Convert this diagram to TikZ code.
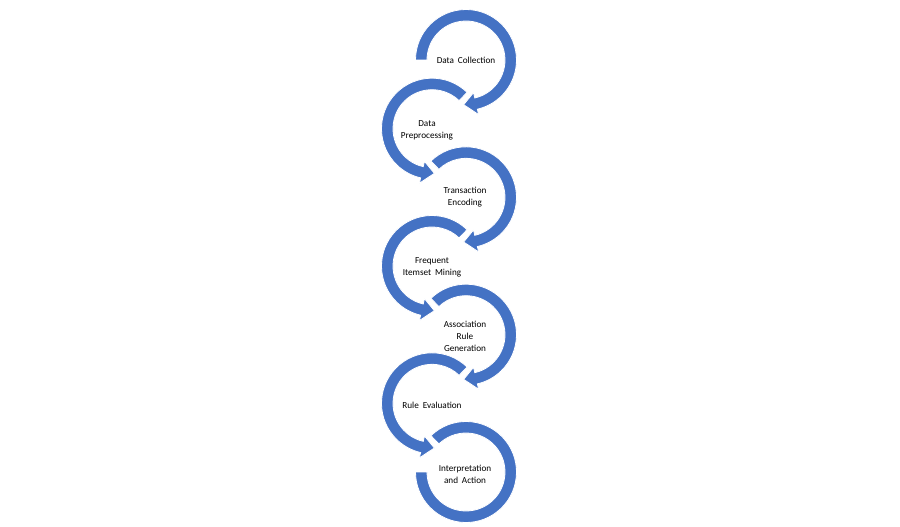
\documentclass[tikz,border=0pt]{standalone}
\usepackage{fontspec}
\setmainfont{Carlito}
\definecolor{arrowblue}{HTML}{4472C4}
\newcommand{\lblfont}{\fontsize{9.2}{12}\selectfont\spaceskip=0.42em\relax}
\tikzset{
  ring/.style={fill=arrowblue, draw=white, line width=0.8pt, line join=miter},
  lbl/.style={align=center, font=\lblfont, inner sep=0pt, text=black}
}
\newcommand{\Ro}{50.5}
\newcommand{\Ri}{39}
\newcommand{\Rm}{44.75}
\newcommand{\Rho}{56}
\newcommand{\Rhi}{33.5}
\begin{document}
\begin{tikzpicture}[x=1pt,y=1pt]
\useasboundingbox (0,0) rectangle (900,-527);
% circle 1 (right)
\begin{scope}[shift={(466,-60)}]
\path[ring] (180:\Ro) arc[start angle=180,end angle=-77,radius=\Ro] -- (-77:\Rho) -- (-93:\Rm) -- (-77:\Rhi) -- (-77:\Ri) arc[start angle=-77,end angle=180,radius=\Ri] -- cycle;
\end{scope}
% circle 2 (left)
\begin{scope}[shift={(432,-128.67)}]
\path[ring] (46:\Ro) arc[start angle=46,end angle=257,radius=\Ro] -- (257:\Rho) -- (273:\Rm) -- (257:\Rhi) -- (257:\Ri) arc[start angle=257,end angle=46,radius=\Ri] -- cycle;
\end{scope}
% circle 3 (right)
\begin{scope}[shift={(466,-197.33)}]
\path[ring] (134:\Ro) arc[start angle=134,end angle=-77,radius=\Ro] -- (-77:\Rho) -- (-93:\Rm) -- (-77:\Rhi) -- (-77:\Ri) arc[start angle=-77,end angle=134,radius=\Ri] -- cycle;
\end{scope}
% circle 4 (left)
\begin{scope}[shift={(432,-266)}]
\path[ring] (46:\Ro) arc[start angle=46,end angle=257,radius=\Ro] -- (257:\Rho) -- (273:\Rm) -- (257:\Rhi) -- (257:\Ri) arc[start angle=257,end angle=46,radius=\Ri] -- cycle;
\end{scope}
% circle 5 (right)
\begin{scope}[shift={(466,-334.67)}]
\path[ring] (134:\Ro) arc[start angle=134,end angle=-77,radius=\Ro] -- (-77:\Rho) -- (-93:\Rm) -- (-77:\Rhi) -- (-77:\Ri) arc[start angle=-77,end angle=134,radius=\Ri] -- cycle;
\end{scope}
% circle 6 (left)
\begin{scope}[shift={(432,-403.33)}]
\path[ring] (46:\Ro) arc[start angle=46,end angle=257,radius=\Ro] -- (257:\Rho) -- (273:\Rm) -- (257:\Rhi) -- (257:\Ri) arc[start angle=257,end angle=46,radius=\Ri] -- cycle;
\end{scope}
% circle 7 (right, no head)
\begin{scope}[shift={(466,-472)}]
\path[ring] (134:\Ro) arc[start angle=134,end angle=-180,radius=\Ro] -- (180:\Ri) arc[start angle=-180,end angle=134,radius=\Ri] -- cycle;
\end{scope}
% labels
\node[lbl] (t1) at (466,-60) {Data Collection};
\node[lbl] (t2) at (427,-130) {Data\\Preprocessing};
\node[lbl] (t3) at (465,-197.5) {Transaction\\Encoding};
\node[lbl] (t4) at (432,-267.5) {Frequent\\Itemset Mining};
\node[lbl] (t5) at (465,-336) {Association\\Rule\\Generation};
\node[lbl] (t6) at (432,-405.5) {Rule Evaluation};
\node[lbl] (t7) at (465,-474) {Interpretation\\and Action};
\end{tikzpicture}
\end{document}
